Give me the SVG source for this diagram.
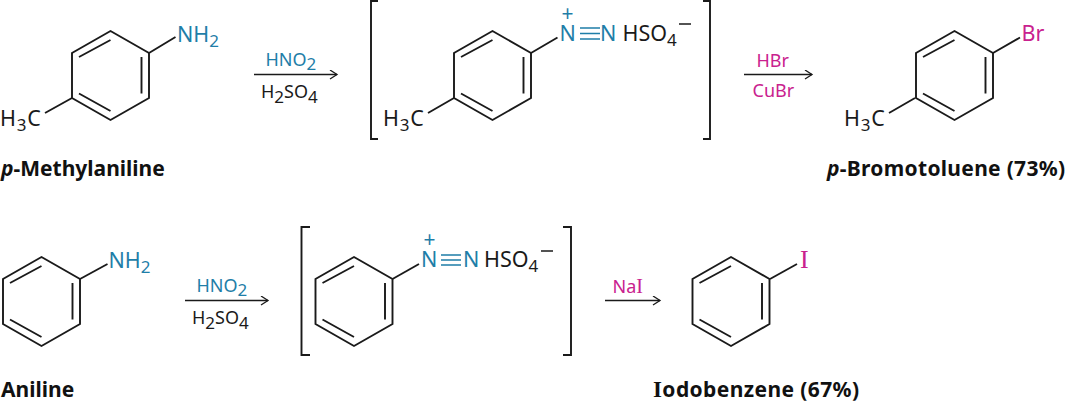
<svg xmlns="http://www.w3.org/2000/svg" xmlns:xlink="http://www.w3.org/1999/xlink" width="1066" height="405" viewBox="0 0 1066 405">
<style>
text{font-family:"Noto Sans","Open Sans",sans-serif;fill:#1a1a1a}
.chem{font-size:21.500px}
.me{letter-spacing:.8px}
.rg{font-size:18px}
.sub{font-size:17px}
.plus{font-size:21px}
.blue{fill:#1f7ea8}
.pink{fill:#c9218e}
.name{font-size:21px;font-weight:700;fill:#111}
.b{fill:none;stroke:#1a1a1a;stroke-width:1.900}
.t{fill:none;stroke:#1f7ea8;stroke-width:1.600}
.a{fill:none;stroke:#1a1a1a;stroke-width:1.500}
.serif{font-family:"Liberation Serif",serif}
</style>
<defs>
<g id="ring" class="b"><path d="M0-44.500 38.500-22.500V22.500L0 44.500-38.500 22.500V-22.500Z"/><path d="M-31.500-18.500 0-35.500M31-18.500V18M-31.500 18 0 35.500"/></g>
<marker id="ah" markerWidth="12" markerHeight="12" refX="10" refY="5" orient="auto" markerUnits="userSpaceOnUse"><path d="M3 .5 10 5 3 9.500" fill="none" stroke="#1a1a1a" stroke-width="1.300"/></marker>
</defs>
<g id="connectors">
<path class="a" marker-end="url(#ah)" d="M254 74.500H337"/>
<path class="a" marker-end="url(#ah)" d="M744 74.500H812"/>
<path class="a" marker-end="url(#ah)" d="M185 300.500H268"/>
<path class="a" marker-end="url(#ah)" d="M605 300.500H660"/>
</g>
<g id="p-methylaniline">
<use href="#ring" xlink:href="#ring" x="110.500" y="75.500"/>
<path class="b" d="M149 53 175.500 37M72 98 45 113"/>
<text class="chem blue" x="177" y="42">NH<tspan class="sub" dy="5">2</tspan></text>
<text class="chem me" x="0" y="126">H<tspan class="sub" dy="5">3</tspan><tspan dy="-5">C</tspan></text>
<text class="name" x="1" y="176"><tspan font-style="italic">p</tspan>-Methylaniline</text>
</g>
<g id="reagents-1">
<text class="rg blue" x="265.500" y="66">HNO<tspan class="sub" dy="4">2</tspan></text>
<text class="rg" x="261" y="98">H<tspan class="sub" dy="5">2</tspan><tspan dy="-5">SO</tspan><tspan class="sub" dy="5">4</tspan></text>
</g>
<g id="diazonium-1">
<path class="b" d="M378 1H371V139H378M703 1H710V139H703"/>
<use href="#ring" xlink:href="#ring" x="492.500" y="75.500"/>
<path class="b" d="M531 53 557.500 37.500M454 98 428 113"/>
<path class="t" d="M580 28H600M580 33.500H600M580 39H600"/>
<text class="chem blue" x="559.500" y="41">N</text>
<text class="chem blue" x="600" y="41">N</text>
<text class="plus blue" x="561.500" y="21">+</text>
<text class="chem" x="622.500" y="41">HSO<tspan class="sub" dy="5">4</tspan></text>
<path class="a" d="M679 24H691"/>
<text class="chem me" x="383" y="126">H<tspan class="sub" dy="5">3</tspan><tspan dy="-5">C</tspan></text>
</g>
<g id="reagents-2">
<text class="rg pink" x="756.500" y="67">HBr</text>
<text class="rg pink" x="752.500" y="97">CuBr</text>
</g>
<g id="p-bromotoluene">
<use href="#ring" xlink:href="#ring" x="954.500" y="75.500"/>
<path class="b" d="M993 53 1020 37.500M915 98 889 113"/>
<text class="chem pink" x="1021.500" y="41">Br</text>
<text class="chem me" x="844" y="126">H<tspan class="sub" dy="5">3</tspan><tspan dy="-5">C</tspan></text>
<text class="name" x="827" y="176" letter-spacing=".3"><tspan font-style="italic">p</tspan>-Bromotoluene (73%)</text>
</g>
<g id="aniline">
<use href="#ring" xlink:href="#ring" x="41.500" y="301.500"/>
<path class="b" d="M80 279 107.500 264"/>
<text class="chem blue" x="108.500" y="268">NH<tspan class="sub" dy="5">2</tspan></text>
<text class="name" x="1" y="397">Aniline</text>
</g>
<g id="reagents-3">
<text class="rg blue" x="196.500" y="292">HNO<tspan class="sub" dy="4">2</tspan></text>
<text class="rg" x="192" y="324">H<tspan class="sub" dy="5">2</tspan><tspan dy="-5">SO</tspan><tspan class="sub" dy="5">4</tspan></text>
</g>
<g id="diazonium-2">
<path class="b" d="M310 227H301.500V355H310M563 227H571V355H563"/>
<use href="#ring" xlink:href="#ring" x="354" y="301.500"/>
<path class="b" d="M392.500 279 419 264"/>
<path class="t" d="M441 255H461M441 260H461M441 265H461"/>
<text class="chem blue" x="421" y="267">N</text>
<text class="chem blue" x="463" y="267">N</text>
<text class="plus blue" x="423.500" y="247">+</text>
<text class="chem" x="484" y="267">HSO<tspan class="sub" dy="5">4</tspan></text>
<path class="a" d="M541 251H553"/>
</g>
<g id="reagent-4">
<text class="rg pink" x="612.500" y="293">Na<tspan class="serif" style="font-size:20px">I</tspan></text>
</g>
<g id="iodobenzene">
<use href="#ring" xlink:href="#ring" x="731" y="301.500"/>
<path class="b" d="M770 279 797 264"/>
<text class="pink serif" x="800" y="268" style="font-size:26px;font-family:'Liberation Serif',serif">I</text>
<text class="name" x="653" y="397" letter-spacing=".4"><tspan class="serif" style="font-size:23px">I</tspan>odobenzene (67%)</text>
</g>
</svg>
